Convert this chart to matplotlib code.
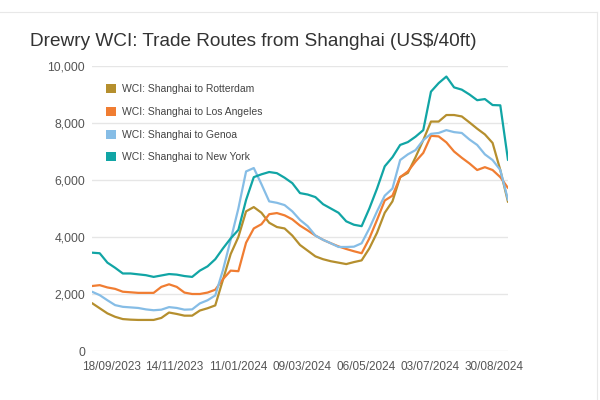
import datetime
import matplotlib
matplotlib.use('Agg')
import matplotlib.pyplot as plt
import matplotlib.dates as mdates
from matplotlib.patches import Patch
from matplotlib.lines import Line2D
from matplotlib.ticker import FuncFormatter

plt.rcParams['font.family'] = ['Liberation Sans', 'DejaVu Sans']

# weekly WCI readings, Thursdays from 31/08/2023
start = datetime.date(2023, 8, 31)
n_weeks = 55
dates = [start + datetime.timedelta(days=7 * i) for i in range(n_weeks)]

rotterdam = [1680, 1500, 1320, 1200, 1120, 1100, 1090, 1090, 1090, 1160,
             1350, 1300, 1240, 1240, 1420, 1500, 1600, 2500, 3400, 4000,
             4900, 5050, 4850, 4500, 4350, 4300, 4050, 3720, 3520, 3320,
             3220, 3150, 3100, 3050, 3120, 3180, 3600, 4150, 4850, 5250,
             6100, 6250, 6800, 7400, 8050, 8050, 8280, 8280, 8230, 8020,
             7800, 7600, 7300, 6350, 5230]

los_angeles = [2280, 2310, 2230, 2180, 2080, 2060, 2040, 2040, 2040, 2250,
               2340, 2250, 2050, 2000, 2000, 2050, 2150, 2520, 2820, 2800,
               3800, 4300, 4450, 4800, 4840, 4760, 4620, 4400, 4230, 4050,
               3900, 3780, 3670, 3580, 3500, 3430, 3950, 4600, 5280, 5450,
               6100, 6300, 6650, 6950, 7550, 7530, 7320, 7000, 6780, 6580,
               6350, 6450, 6350, 6100, 5720]

genoa = [2080, 1960, 1780, 1610, 1550, 1530, 1510, 1460, 1430, 1450,
         1540, 1510, 1450, 1460, 1670, 1780, 1950, 2840, 3900, 5000,
         6300, 6420, 5850, 5250, 5200, 5120, 4900, 4600, 4380, 4050,
         3900, 3780, 3650, 3650, 3660, 3780, 4300, 4900, 5450, 5700,
         6700, 6900, 7050, 7400, 7620, 7650, 7750, 7680, 7650, 7420,
         7230, 6900, 6700, 6350, 5300]

new_york = [3450, 3430, 3100, 2920, 2720, 2720, 2690, 2660, 2600, 2650,
            2700, 2680, 2630, 2600, 2820, 2970, 3220, 3600, 3950, 4250,
            5300, 6100, 6200, 6280, 6240, 6080, 5890, 5540, 5490, 5400,
            5150, 5000, 4850, 4550, 4430, 4380, 5000, 5700, 6480, 6800,
            7230, 7330, 7520, 7750, 9100, 9400, 9630, 9250, 9170, 9000,
            8800, 8840, 8630, 8620, 6700]

series_names = ['WCI: Shanghai to Rotterdam', 'WCI: Shanghai to Los Angeles',
                'WCI: Shanghai to Genoa', 'WCI: Shanghai to New York']
series_colors = ['#B58F2E', '#F07D32', '#86BDE6', '#11A5A5']

tick_dates = [datetime.date(2023, 9, 18), datetime.date(2023, 11, 14),
              datetime.date(2024, 1, 11), datetime.date(2024, 3, 9),
              datetime.date(2024, 5, 6), datetime.date(2024, 7, 3),
              datetime.date(2024, 8, 30)]
y_ticks = [0, 2000, 4000, 6000, 8000, 10000]

fig = plt.figure(figsize=(6, 4), dpi=100)
ax = fig.add_axes([92 / 600, 49 / 400, 416 / 600, 285 / 400])

for vals, name, col in zip([rotterdam, los_angeles, genoa, new_york],
                           series_names, series_colors):
    ax.plot(dates, vals, color=col, lw=1.6, solid_joinstyle='round',
            solid_capstyle='round', label=name)

ax.set_xlim(dates[0], dates[-1])
ax.set_ylim(0, 10000)
ax.set_yticks(y_ticks)
ax.yaxis.set_major_formatter(FuncFormatter(lambda v, p: f'{int(v):,}'))
ax.set_xticks(tick_dates)
ax.xaxis.set_major_formatter(mdates.DateFormatter('%d/%m/%Y'))

for s in ax.spines.values():
    s.set_visible(False)
ax.grid(axis='y', color='#e6e6e6', lw=1)
ax.set_axisbelow(True)
ax.tick_params(axis='both', length=0, labelsize=8.5, labelcolor='#555555')
ax.tick_params(axis='x', pad=7)
ax.tick_params(axis='y', pad=5, labelsize=8.8)

handles = [Patch(facecolor=c, edgecolor='none') for c in series_colors]
leg = ax.legend(handles, series_names, loc='upper left',
                bbox_to_anchor=(106 / 600, 1 - 84 / 400),
                bbox_transform=fig.transFigure, frameon=False,
                fontsize=7.5, handlelength=0.95, handleheight=0.95,
                handletextpad=0.6, labelspacing=1.22, borderpad=0,
                borderaxespad=0)
for t in leg.get_texts():
    t.set_color('#444444')

fig.text(30 / 600, 1 - 42 / 400, 'Drewry WCI: Trade Routes from Shanghai (US$/40ft)',
         fontsize=13.7, color='#333333', va='center', ha='left')

# faint frame of the card
fig.add_artist(Line2D([0, 597 / 600], [1 - 12 / 400, 1 - 12 / 400],
                      transform=fig.transFigure, color='#e8e8e8', lw=0.8))
fig.add_artist(Line2D([597 / 600, 597 / 600], [0, 1 - 12 / 400],
                      transform=fig.transFigure, color='#e8e8e8', lw=0.8))

fig.savefig('out.png', dpi=100)
